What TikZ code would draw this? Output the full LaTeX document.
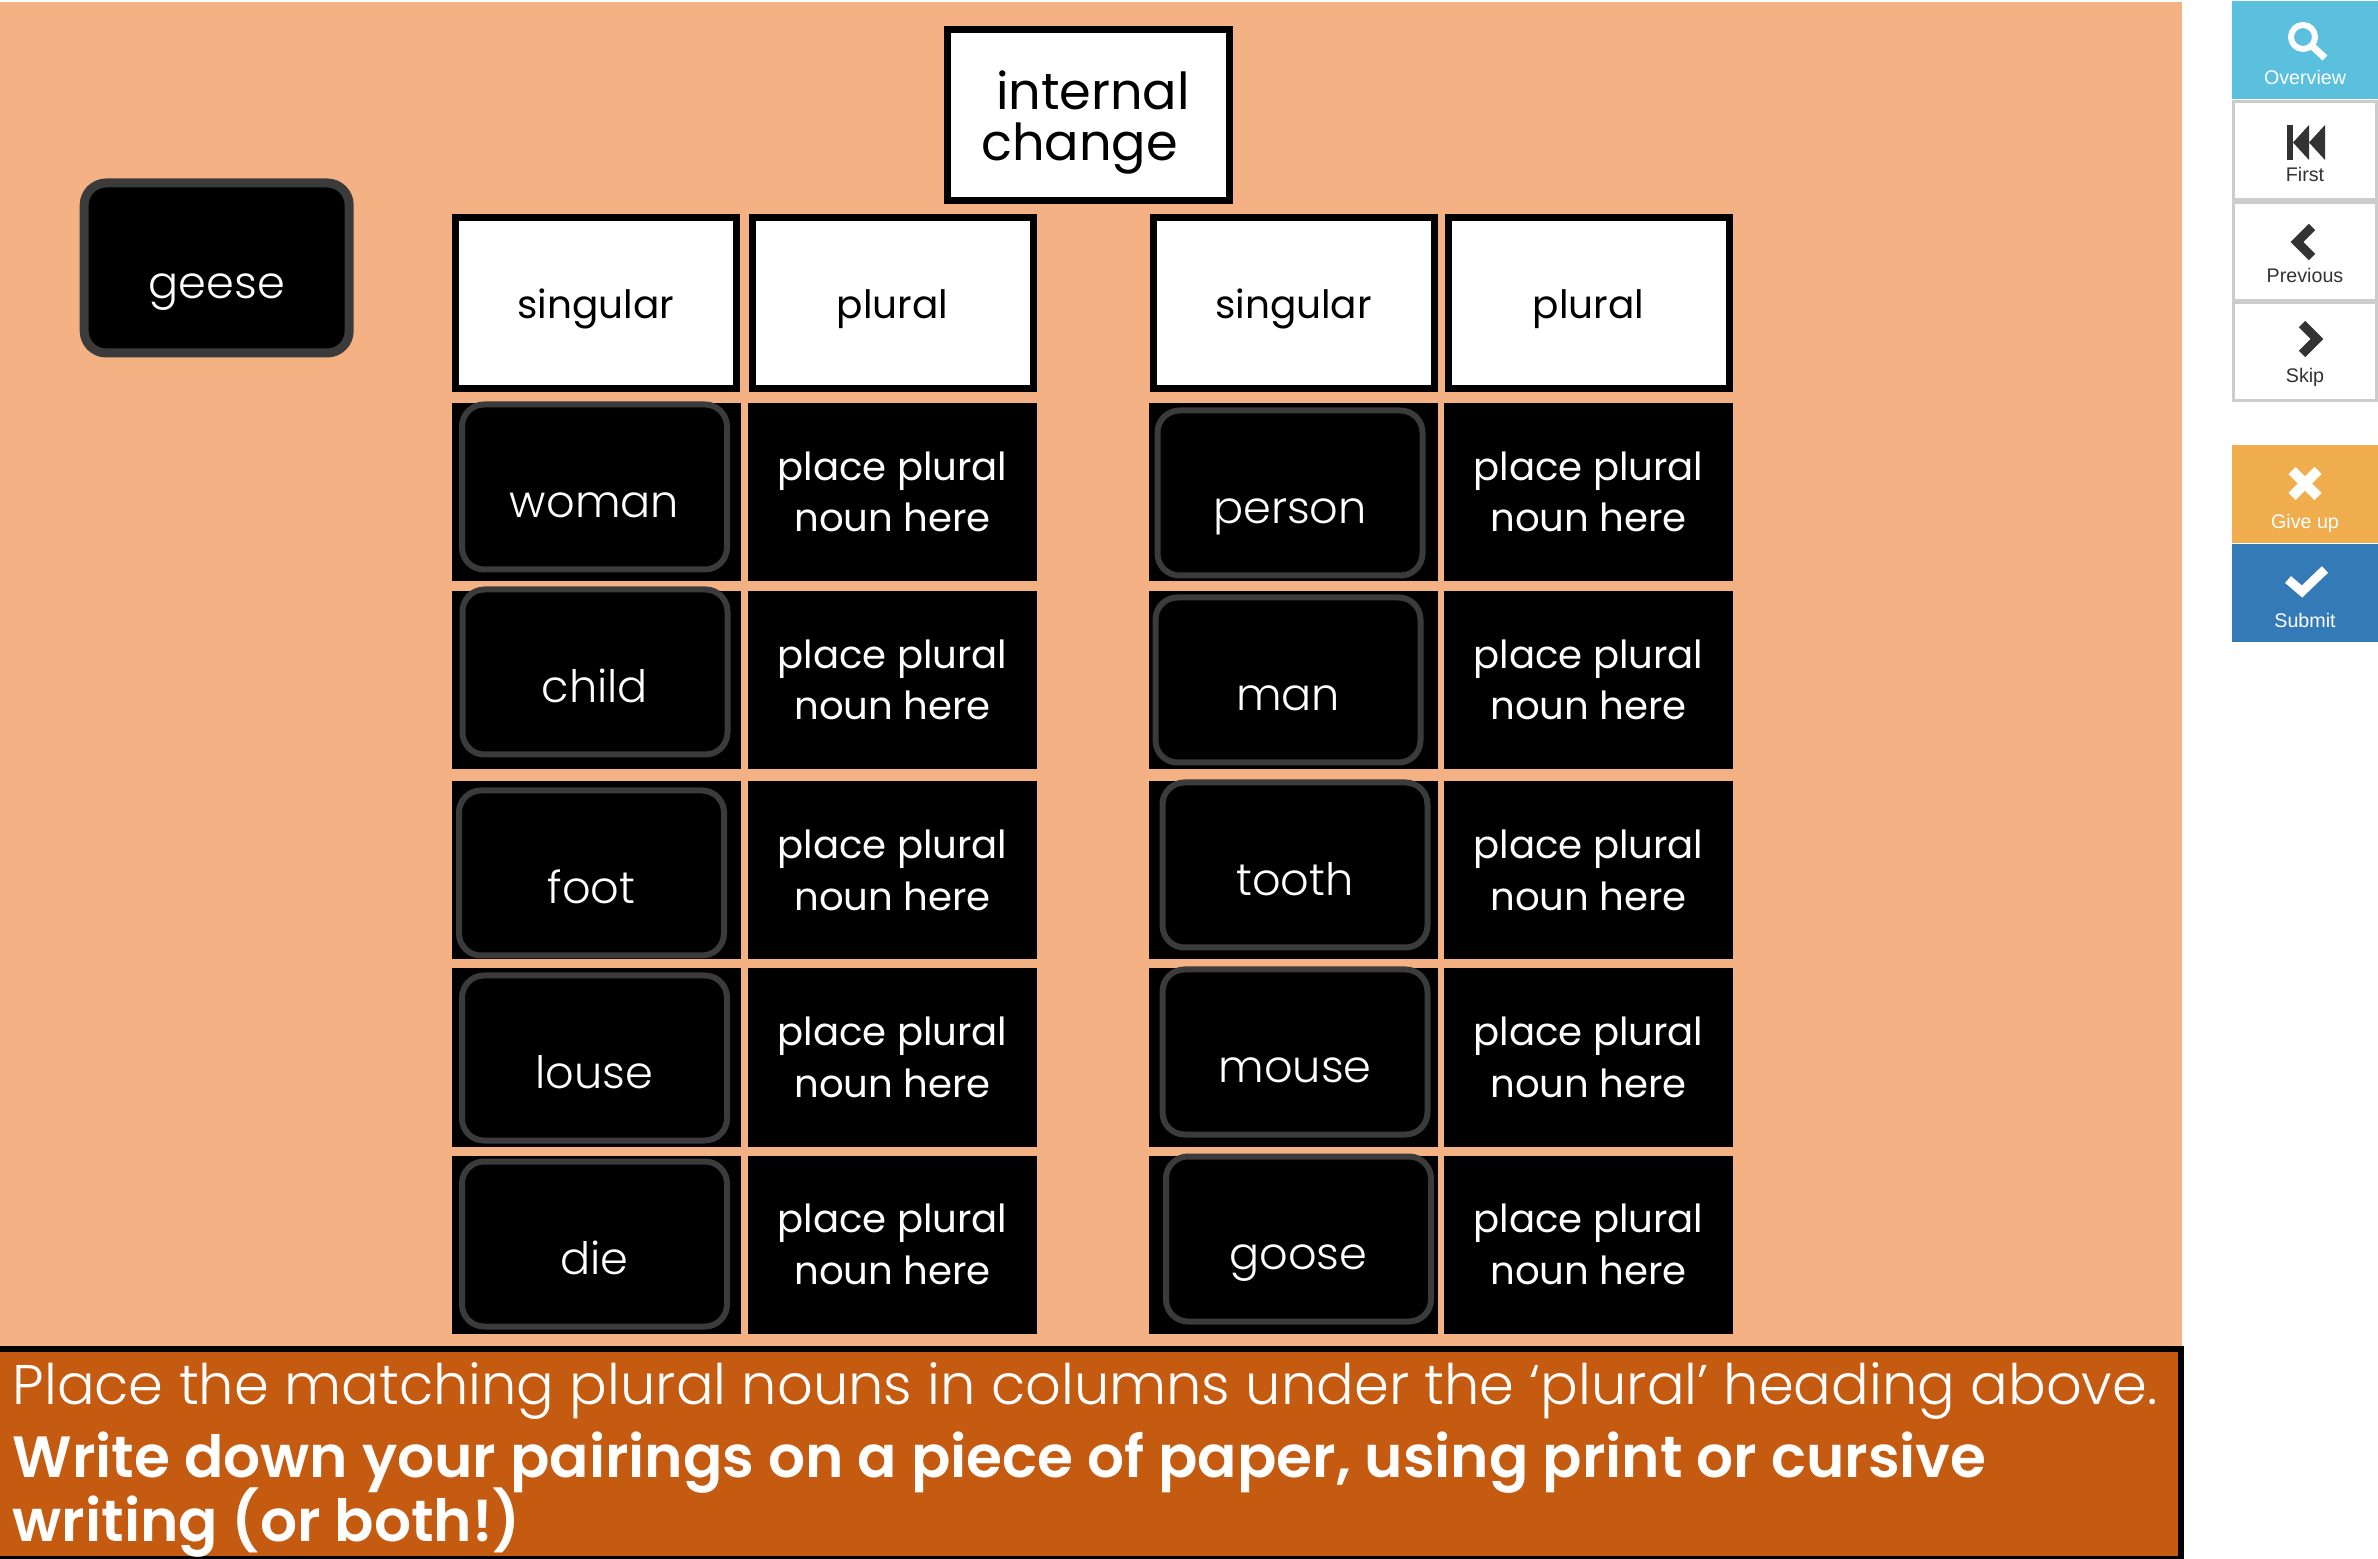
\documentclass[tikz,border=0pt]{standalone}
\usepackage{fontspec}
\setmainfont{Poppins}[UprightFont=* Light, BoldFont=* SemiBold]
\newfontfamily\regfont{Poppins}
\newfontfamily\navfont{Liberation Sans}
\usetikzlibrary{positioning}
\definecolor{pagebg}{HTML}{F4B183}
\definecolor{bandbg}{HTML}{C55A11}
\definecolor{tileedge}{HTML}{3B3B3B}
\definecolor{navblue}{HTML}{5BC0DE}
\definecolor{navorange}{HTML}{F0AD4E}
\definecolor{navsubmit}{HTML}{337AB7}
\definecolor{navedge}{HTML}{CCCCCC}
\definecolor{navdark}{HTML}{333333}
\tikzset{head/.style = {draw, fill = white, line width = 0.07cm, inner sep = 0, minimum width = 2.81cm, minimum height = 1.71cm, text height = 0.31cm, text depth = 0, font = \regfont\fontsize{11.1}{13}\selectfont}}
\tikzset{cell/.style = {fill, inner sep = 0, minimum width = 2.89cm, minimum height = 1.78cm, text = white, align = center, font = \regfont\fontsize{11}{14.7}\selectfont}}
\tikzset{tile/.style = {draw = tileedge, fill = black, line width = 0.06cm, rounded corners = 0.22cm, inner sep = 0, minimum width = 2.65cm, minimum height = 1.65cm, text = white, text height = 0.61cm, text depth = 0, font = \fontsize{12.7}{14}\selectfont}}
\tikzset{nav/.style = {draw = navedge, fill = white, line width = 0.03cm, inner sep = 0, minimum width = 1.43cm, minimum height = 0.98cm, text = navdark, text height = 0.62cm, text depth = 0, font = \navfont\fontsize{5.6}{7}\selectfont}}
\tikzset{navfill/.style = {nav, draw = none, minimum width = 1.46cm, text = white, text height = 0.70cm}}
\tikzset{bandtext/.style = {anchor = base west, inner sep = 0, text = white, font = \fontsize{15.9}{21}\selectfont}}
\tikzset{boldtext/.style = {bandtext, font = \bfseries\fontsize{16.55}{21}\selectfont}}
\tikzset{glyph/.style = {line width = 0.09cm}}

\begin{document}
\begin{tikzpicture}
          \useasboundingbox (0, 0) rectangle (23.78, 15.58);

          \fill [pagebg] (0, 1.9) rectangle (21.82, 15.56);
          \draw [fill = bandbg, line width = 0.06cm] (-0.1, -0.01) rectangle (21.81, 2.09);

          \node [head, minimum width = 2.82cm] (title) at (10.885, 14.425) {};
          \node [align = center, inner sep = 0, font = \regfont\fontsize{14.5}{14.7}\selectfont] (titletext) at (10.93, 14.355) {internal\\change\hspace*{0.27cm}};

          \node [head] (singa) at (5.96, 12.55) {singular};
          \node [head] (plura) at (8.925, 12.55) {plural};
          \node [head] (singb) at (12.935, 12.55) {singular};
          \node [head] (plurb) at (15.885, 12.55) {plural};

          \node [cell] (a1) at (5.96, 10.66) {};
          \node [cell] (a2) at (5.96, 8.78) {};
          \node [cell] (a3) at (5.96, 6.875) {};
          \node [cell] (a4) at (5.96, 5.005) {};
          \node [cell] (a5) at (5.96, 3.135) {};

          \node [cell] (b1) at (8.925, 10.66) {place plural\\noun here};
          \node [cell] (b2) at (8.925, 8.78) {place plural\\noun here};
          \node [cell] (b3) at (8.925, 6.875) {place plural\\noun here};
          \node [cell] (b4) at (8.925, 5.005) {place plural\\noun here};
          \node [cell] (b5) at (8.925, 3.135) {place plural\\noun here};

          \node [cell] (c1) at (12.935, 10.66) {};
          \node [cell] (c2) at (12.935, 8.78) {};
          \node [cell] (c3) at (12.935, 6.875) {};
          \node [cell] (c4) at (12.935, 5.005) {};
          \node [cell] (c5) at (12.935, 3.135) {};

          \node [cell] (d1) at (15.885, 10.66) {place plural\\noun here};
          \node [cell] (d2) at (15.885, 8.78) {place plural\\noun here};
          \node [cell] (d3) at (15.885, 6.875) {place plural\\noun here};
          \node [cell] (d4) at (15.885, 5.005) {place plural\\noun here};
          \node [cell] (d5) at (15.885, 3.135) {place plural\\noun here};

          \node [tile] (woman) at (5.945, 10.71) {woman};
          \node [tile] (child) at (5.95, 8.86) {child};
          \node [tile] (foot) at (5.915, 6.85) {foot};
          \node [tile] (louse) at (5.945, 5.00) {louse};
          \node [tile] (die) at (5.945, 3.14) {die};

          \node [tile] (person) at (12.90, 10.65) {person};
          \node [tile] (man) at (12.88, 8.78) {man};
          \node [tile] (tooth) at (12.95, 6.93) {tooth};
          \node [tile] (mouse) at (12.95, 5.06) {mouse};
          \node [tile] (goose) at (12.985, 3.19) {goose};

          \node [tile, line width = 0.09cm, minimum height = 1.7cm] (geese) at (2.167, 12.90) {geese};

          \node [bandtext] (linea) at (0.12, 1.54) {Place the matching plural nouns in columns under the ‘plural’ heading above.};
          \node [boldtext] (lineb) at (0.12, 0.81) {Write down your pairings on a piece of paper, using print or cursive};
          \node [boldtext] (linec) at (0.12, 0.17) {writing (or both!)};

          \node [navfill, fill = navblue] (overview) at (23.05, 15.08) {Overview};
          \node [nav] (first) at (23.05, 14.07) {First};
          \node [nav] (previous) at (23.05, 13.06) {Previous};
          \node [nav] (skip) at (23.05, 12.06) {Skip};
          \node [navfill, fill = navorange] (giveup) at (23.05, 10.64) {Give up};
          \node [navfill, fill = navsubmit] (submit) at (23.05, 9.65) {Submit};

          \draw [white, line width = 0.06cm] (23.03, 15.21) circle (0.12);
          \draw [white, line width = 0.07cm] (23.12, 15.12) -- (23.25, 15.0);

          \fill [navdark] (22.87, 13.98) rectangle (22.93, 14.33);
          \fill [navdark] (22.93, 14.155) -- (23.09, 14.33) -- (23.09, 13.98) -- cycle;
          \fill [navdark] (23.09, 14.155) -- (23.25, 14.33) -- (23.25, 13.98) -- cycle;

          \draw [navdark, glyph] (23.12, 13.31) -- (22.97, 13.16) -- (23.12, 13.01);
          \draw [navdark, glyph] (23.02, 12.34) -- (23.17, 12.19) -- (23.02, 12.04);

          \draw [white, glyph, line width = 0.1cm] (22.92, 10.875) -- (23.18, 10.615);
          \draw [white, glyph, line width = 0.1cm] (22.92, 10.615) -- (23.18, 10.875);
          \draw [white, glyph] (22.88, 9.785) -- (23.02, 9.665) -- (23.25, 9.885);
        \end{tikzpicture}
\end{document}
